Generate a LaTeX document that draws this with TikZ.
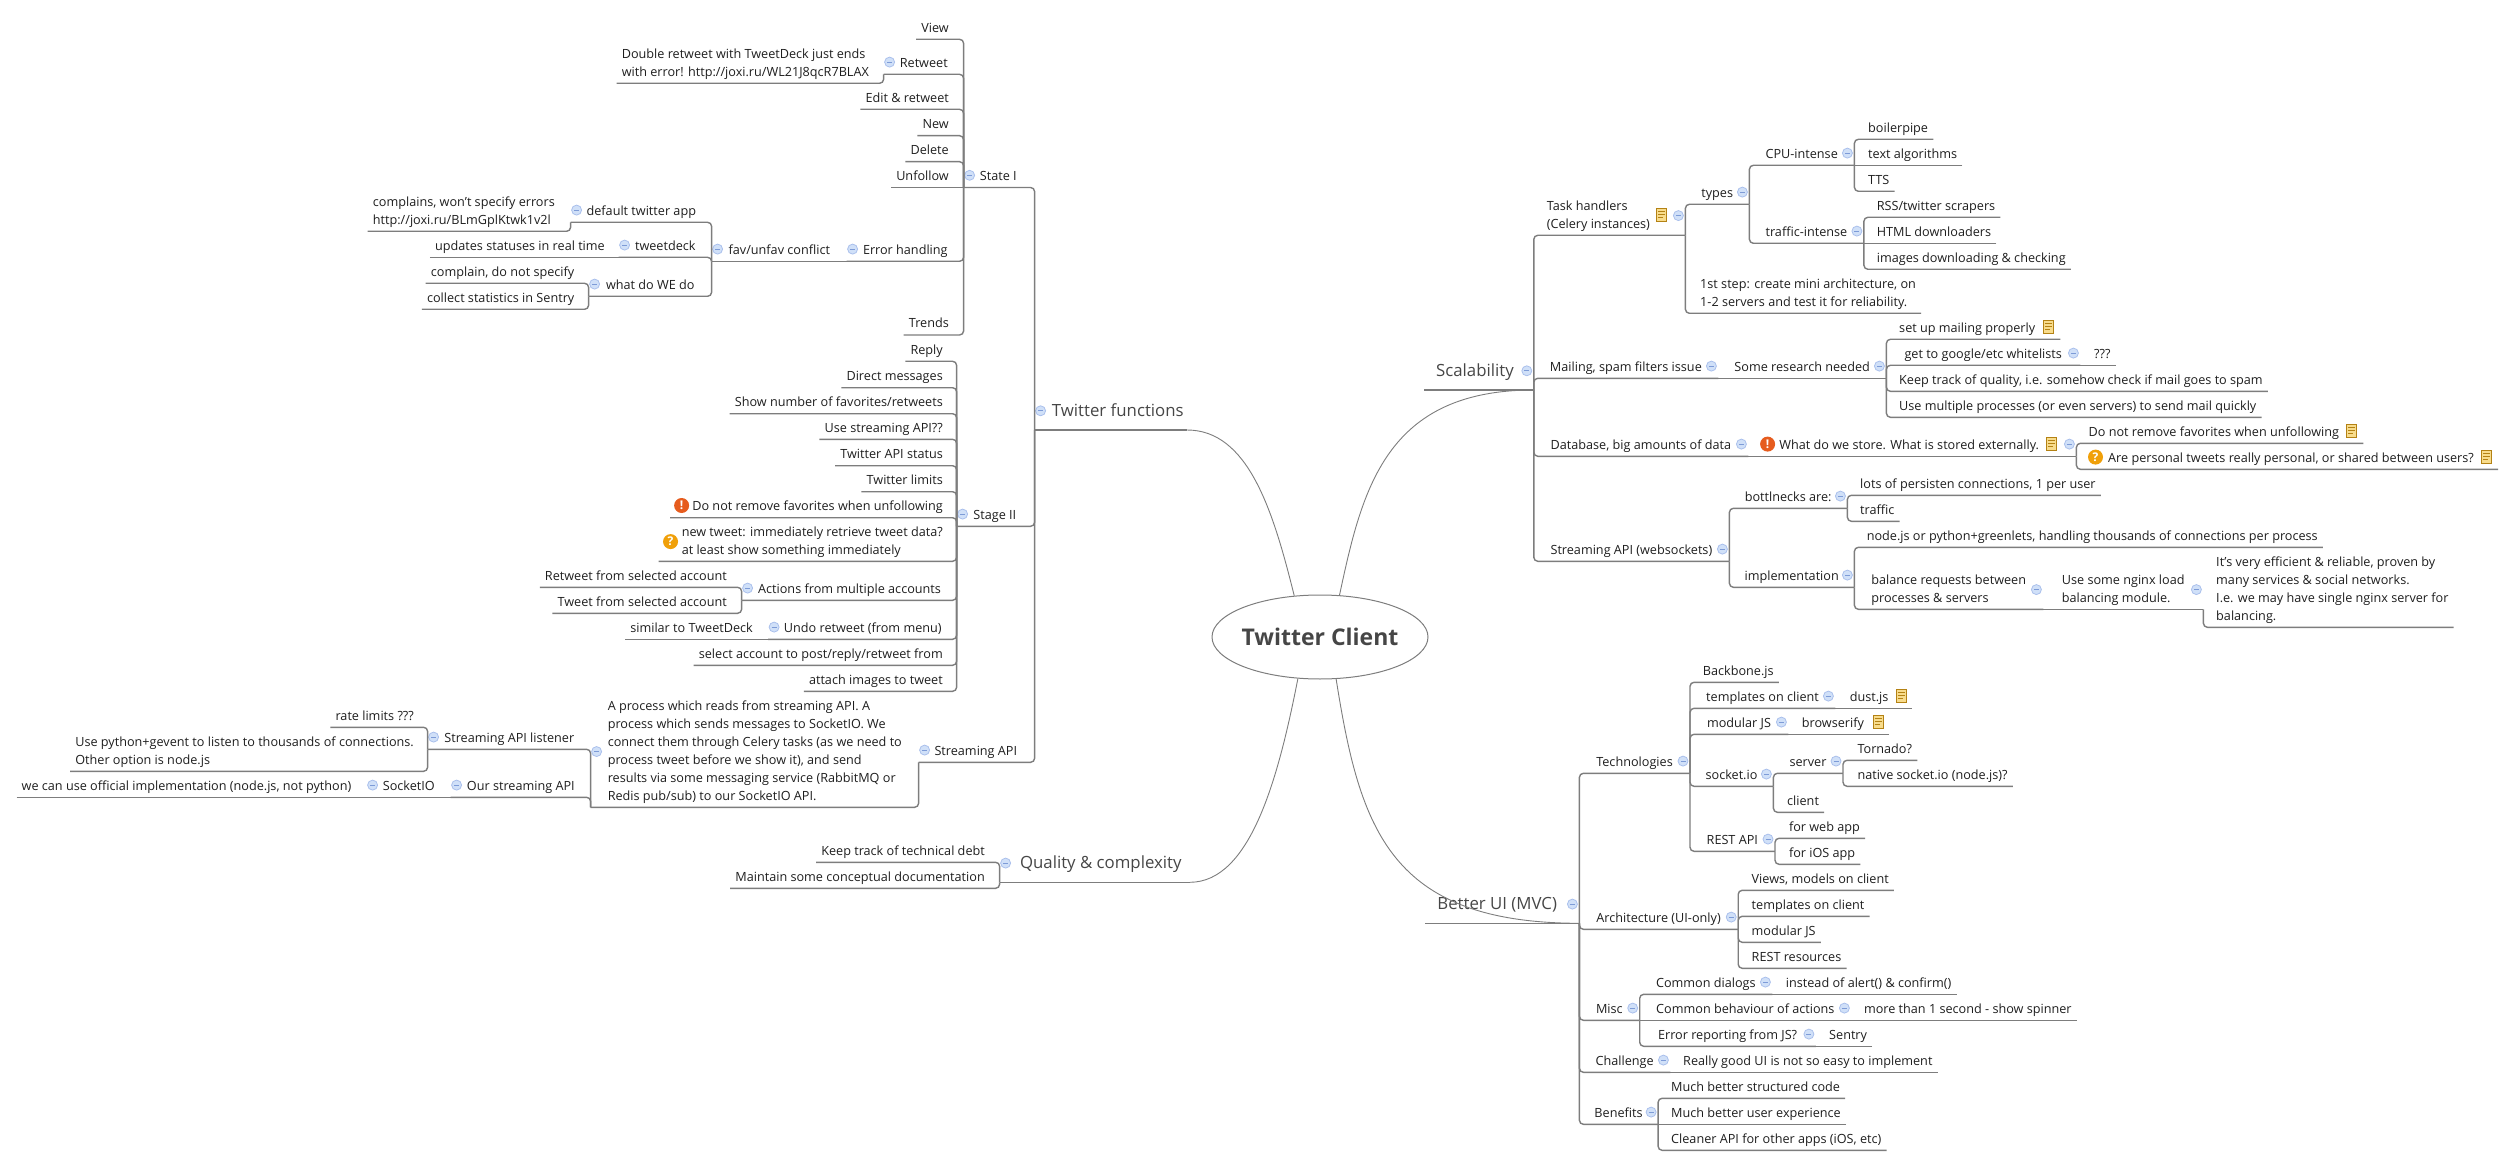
\documentclass[tikz,border=0pt]{standalone}
\usepackage{fontspec}
\setmainfont{Open Sans}
\usetikzlibrary{shapes.geometric}
\definecolor{linecol}{RGB}{125,125,125}
\definecolor{txtcol}{RGB}{30,30,30}
\definecolor{maincol}{RGB}{70,70,70}
\definecolor{foldfill}{RGB}{208,224,248}
\definecolor{foldedge}{RGB}{170,192,236}
\definecolor{foldline}{RGB}{125,155,215}
\definecolor{warncol}{RGB}{230,92,30}
\definecolor{askcol}{RGB}{240,160,10}
\definecolor{notefill}{RGB}{248,220,140}
\definecolor{noteline}{RGB}{180,130,20}
\tikzset{
  topic/.style={inner xsep=0pt,inner ysep=1.5pt,align=left,text=txtcol,font=\fontsize{12.65}{18}\selectfont,execute at begin node=\strut,execute at end node=\strut},
  lleaf/.style={topic,anchor=south east,inner xsep=5pt},
  rleaf/.style={topic,anchor=south west,inner xsep=5pt},
  lbranch/.style={topic,anchor=south east,minimum width=#1,append after command={node[foldmark] (\tikzlastnode-fold) at ([xshift=6pt,yshift=1.5pt]\tikzlastnode.west) {}}},
  rbranch/.style={topic,anchor=south west,minimum width=#1,append after command={node[foldmark] (\tikzlastnode-fold) at ([xshift=-7pt,yshift=1.5pt]\tikzlastnode.east) {}}},
  lmain/.style={topic,anchor=south east,minimum width=#1,inner ysep=6pt,text=maincol,font=\fontsize{16.8}{24}\selectfont,append after command={node[foldmark] (\tikzlastnode-fold) at ([xshift=6pt,yshift=1pt]\tikzlastnode.west) {}}},
  rmain/.style={topic,anchor=south west,minimum width=#1,inner ysep=6pt,text=maincol,font=\fontsize{16.8}{24}\selectfont,append after command={node[foldmark] (\tikzlastnode-fold) at ([xshift=-7pt,yshift=1pt]\tikzlastnode.east) {}}},
  foldmark/.style={circle,draw=foldedge,fill=foldfill,line width=0.8pt,inner sep=0pt,minimum size=10pt,path picture={\draw[foldline,line width=1pt] ([xshift=-2.5pt]path picture bounding box.center) -- ([xshift=2.5pt]path picture bounding box.center);}},
  warnmark/.style={circle,fill=warncol,text=white,inner sep=0pt,minimum size=15pt,font=\fontsize{12}{12}\selectfont\bfseries},
  askmark/.style={circle,fill=askcol,text=white,inner sep=0pt,minimum size=15pt,font=\fontsize{12}{12}\selectfont\bfseries},
  notemark/.style={rectangle,draw=noteline,fill=notefill,line width=1pt,inner sep=0pt,minimum width=10pt,minimum height=13pt,path picture={\draw[noteline,line width=0.8pt] ([shift={(1.5pt,-3pt)}]path picture bounding box.north west) -- ++(7,0) ++(-7,3) -- ++(7,0) ++(-7,3) -- ++(5,0);}},
  rootnode/.style={ellipse,draw=linecol,fill=white,line width=1pt,inner xsep=-2.2pt,inner ysep=0pt,minimum width=216pt,minimum height=84pt,text=maincol,font=\fontsize{23}{28}\selectfont\bfseries},
  link/.style={draw=linecol,line width=1.4pt,rounded corners=4pt},
  curve/.style={draw=linecol,line width=0.9pt}
}
\begin{document}
\begin{tikzpicture}[x=1pt,y=-1pt]
\useasboundingbox (0,0) rectangle (2512,1166);
\node[rootnode] (root) at (1320,637) {Twitter Client};

\node[lmain=152] (twitfn) at (1187,430) {\hspace*{14pt}Twitter functions};
\node[lmain=190] (quality) at (1190,882.3) {\hspace*{12pt}Quality \& complexity};
\node[rmain=109.4] (scal) at (1424,390) {Scalability\hspace*{8pt}};
\node[rmain=154] (betterui) at (1425,923.3) {Better UI (MVC)\hspace*{10pt}};

\node[lbranch=69] (statei) at (1033,187.5) {State I};
\node[lleaf] (view) at (954,39.3) {View};
\node[lbranch=80] (retweet) at (964,74.3) {Retweet};
\node[lleaf] (dblrt) at (874,83.3) {Double retweet with TweetDeck just ends\\with error! http://joxi.ru/WL21J8qcR7BLAX};
\node[lleaf] (editrt) at (954,109.3) {Edit \& retweet};
\node[lleaf] (newtop) at (954,135.7) {New};
\node[lleaf] (deltop) at (954,161.7) {Delete};
\node[lleaf] (unfollow) at (954,187.5) {Unfollow};
\node[lbranch=117] (errhand) at (964,261.3) {Error handling};
\node[lbranch=135] (favconf) at (847,261.3) {fav/unfav conflict};
\node[lbranch=141] (deftw) at (712,222.3) {default twitter app};
\node[lleaf] (complains) at (560,231.3) {complains, won't specify errors\\http://joxi.ru/BLmGplKtwk1v2l};
\node[lbranch=93] (tweetdeck) at (712,257.3) {tweetdeck};
\node[lleaf] (updates) at (610,257.3) {updates statuses in real time};
\node[lbranch=123] (whatwe) at (712,296.3) {what do WE do};
\node[lleaf] (complain) at (579.5,283.3) {complain, do not specify};
\node[lleaf] (collect) at (579.5,309.3) {collect statistics in Sentry};
\node[lleaf] (trends) at (954,335) {Trends};

\node[lbranch=76] (stageii) at (1033,526.3) {Stage II};
\node[lleaf] (reply) at (948,361.3) {Reply};
\node[lleaf] (direct) at (948,387.7) {Direct messages};
\node[lleaf] (shownum) at (948,413.7) {Show number of favorites/retweets};
\node[lleaf] (usestream) at (948,439.3) {Use streaming API??};
\node[lleaf] (apistatus) at (948,465.7) {Twitter API status};
\node[lleaf] (limits) at (948,491.7) {Twitter limits};
\node[lleaf] (keepfav) at (948,517.7) {\hspace*{17pt}Do not remove favorites when unfollowing};
\node[warnmark] (warnfav) at ([xshift=11.5pt,yshift=1.5pt]keepfav.west) {!};
\node[lleaf] (newtweet) at (948,561.3) {\hspace*{18pt}new tweet: immediately retrieve tweet data?\\\hspace*{18pt}at least show something immediately};
\node[askmark] (asktweet) at ([xshift=12pt,yshift=1.5pt]newtweet.west) {?};
\node[lbranch=215.5] (actions) at (957.5,600.3) {Actions from multiple accounts};
\node[lleaf] (rtselect) at (732,587.3) {Retweet from selected account};
\node[lleaf] (twselect) at (732,613.3) {Tweet from selected account};
\node[lbranch=189] (undort) at (957.5,639.3) {Undo retweet (from menu)};
\node[lleaf] (similar) at (758,639.3) {similar to TweetDeck};
\node[lleaf] (selacc) at (948,665.3) {select account to post/reply/retweet from};
\node[lleaf] (attach) at (948,691.3) {attach images to tweet};

\node[lbranch=114] (streamapi) at (1033,762.3) {Streaming API};
\node[lbranch=328] (aprocess) at (919,807.3) {A process which reads from streaming API. A\\process which sends messages to SocketIO. We\\connect them through Celery tasks (as we need to\\process tweet before we show it), and send\\results via some messaging service (RabbitMQ or\\Redis pub/sub) to our SocketIO API.};
\node[lbranch=163] (listener) at (591,749.3) {Streaming API listener};
\node[lleaf] (ratelim) at (419,727.3) {rate limits ???};
\node[lleaf] (usepy) at (419,771.3) {Use python+gevent to listen to thousands of connections.\\Other option is node.js};
\node[lbranch=140] (ourapi) at (591,797.3) {Our streaming API};
\node[lbranch=84] (socketio) at (451,797.3) {SocketIO};
\node[lleaf] (official) at (356.5,797.3) {we can use official implementation (node.js, not python)};

\node[lleaf] (techdebt) at (990,862.3) {Keep track of technical debt};
\node[lleaf] (concdoc) at (990,888.3) {Maintain some conceptual documentation};

\node[rbranch=151.6] (taskh) at (1533.4,235.3) {Task handlers\\(Celery instances)\hspace*{22pt}};
\node[notemark] (notetask) at ([xshift=-24pt,yshift=2.5pt]taskh.east) {};
\node[rbranch=64] (types) at (1685,204.3) {types};
\node[rbranch=105] (cpuint) at (1749,165.3) {CPU-intense};
\node[rleaf] (boiler) at (1863,139.3) {boilerpipe};
\node[rleaf] (textalg) at (1863,165.3) {text algorithms};
\node[rleaf] (tts) at (1863,191.3) {TTS};
\node[rbranch=114.5] (traffint) at (1749,243.3) {traffic-intense};
\node[rleaf] (scrapers) at (1871.6,217.3) {RSS/twitter scrapers};
\node[rleaf] (htmldl) at (1871.6,243.3) {HTML downloaders};
\node[rleaf] (imagesdl) at (1871.6,269.3) {images downloading \& checking};
\node[rleaf] (firststep) at (1695,313.3) {1st step: create mini architecture, on\\1-2 servers and test it for reliability.};

\node[rbranch=184.6] (mailing) at (1533.4,378.3) {Mailing, spam filters issue};
\node[rbranch=168] (research) at (1718,378.3) {Some research needed};
\node[rleaf] (setmail) at (1894,339.3) {set up mailing properly\hspace*{20pt}};
\node[notemark] (notemail) at ([xshift=-12pt,yshift=1.5pt]setmail.east) {};
\node[rbranch=194] (whitel) at (1886,365.3) {get to google/etc whitelists};
\node[rleaf] (qqq) at (2089,365.3) {???};
\node[rleaf] (keepq) at (1894,391.3) {Keep track of quality, i.e. somehow check if mail goes to spam};
\node[rleaf] (multproc) at (1894,417.3) {Use multiple processes (or even servers) to send mail quickly};

\node[rbranch=214.6] (dbase) at (1533.4,456.3) {Database, big amounts of data};
\node[rbranch=328] (store) at (1748,456.3) {What do we store. What is stored externally.\hspace*{6pt}};
\node[warnmark] (warnstore) at ([xshift=19.6pt,yshift=1.5pt]store.west) {!};
\node[notemark] (notestore) at ([xshift=-25pt,yshift=1.5pt]store.east) {};
\node[rleaf] (dbfav) at (2083.4,443.3) {Do not remove favorites when unfollowing\hspace*{19pt}};
\node[notemark] (notedbfav) at ([xshift=-11.5pt,yshift=1.5pt]dbfav.east) {};
\node[rleaf] (personal) at (2083,469.3) {\hspace*{20pt}Are personal tweets really personal, or shared between users?\hspace*{19pt}};
\node[askmark] (askpers) at ([xshift=12.5pt,yshift=1.5pt]personal.west) {?};
\node[notemark] (notepers) at ([xshift=-11.5pt,yshift=1.5pt]personal.east) {};

\node[rbranch=195.6] (wsapi) at (1533.4,561.3) {Streaming API (websockets)};
\node[rbranch=118] (bottle) at (1729,508.3) {bottlnecks are:};
\node[rleaf] (persist) at (1855,495.3) {lots of persisten connections, 1 per user};
\node[rleaf] (traffic) at (1855,521.3) {traffic};
\node[rbranch=125] (impl) at (1729,587.3) {implementation};
\node[rleaf] (greenl) at (1861.6,547.3) {node.js or python+greenlets, handling thousands of connections per process};
\node[rbranch=189] (balance) at (1854,609.3) {balance requests between\\processes \& servers};
\node[rbranch=160] (nginx) at (2043,609.3) {Use some nginx load\\balancing module.};
\node[rleaf] (efficient) at (2211,627.3) {It's very efficient \& reliable, proven by\\many services \& social networks.\\I.e. we may have single nginx server for\\balancing.};

\node[rbranch=110.6] (techs) at (1579,773.3) {Technologies};
\node[rleaf] (backbone) at (1697.7,682.3) {Backbone.js};
\node[rbranch=145.4] (tplclient) at (1689.6,708.3) {templates on client};
\node[rleaf] (dustjs) at (1844.6,708.3) {dust.js\hspace*{18pt}};
\node[notemark] (notedust) at ([xshift=-10.5pt,yshift=1.5pt]dustjs.east) {};
\node[rbranch=98.4] (modjs) at (1689.6,734.3) {modular JS};
\node[rleaf] (browserify) at (1796.7,734.3) {browserify\hspace*{20pt}};
\node[notemark] (notebrow) at ([xshift=-11pt,yshift=1.5pt]browserify.east) {};
\node[rbranch=83.4] (sockio) at (1689.6,786.3) {socket.io};
\node[rbranch=69.6] (server) at (1773,773.3) {server};
\node[rleaf] (tornado) at (1852.3,760.3) {Tornado?};
\node[rleaf] (nativesock) at (1852.3,786.3) {native socket.io (node.js)?};
\node[rleaf] (client) at (1782,812.3) {client};
\node[rbranch=85] (restapi) at (1689.6,851.3) {REST API};
\node[rleaf] (webapp) at (1783.8,838.3) {for web app};
\node[rleaf] (iosapp) at (1783.8,864.3) {for iOS app};

\node[rbranch=158.8] (archi) at (1579,929.3) {Architecture (UI-only)};
\node[rleaf] (views) at (1746.5,890.3) {Views, models on client};
\node[rleaf] (tplarch) at (1746.5,916.3) {templates on client};
\node[rleaf] (modarch) at (1746.5,942.3) {modular JS};
\node[rleaf] (restres) at (1746.5,968.3) {REST resources};

\node[rbranch=60.3] (misc) at (1579,1020.3) {Misc};
\node[rbranch=132.7] (dialogs) at (1639.3,994.3) {Common dialogs};
\node[rleaf] (insalert) at (1780.7,994.3) {instead of alert() \& confirm()};
\node[rbranch=211.7] (behav) at (1639.3,1020.3) {Common behaviour of actions};
\node[rleaf] (spinner) at (1858.8,1020.3) {more than 1 second - show spinner};
\node[rbranch=176.2] (errjs) at (1639.3,1046.3) {Error reporting from JS?};
\node[rleaf] (sentry) at (1824,1046.3) {Sentry};

\node[rbranch=91] (challenge) at (1579,1072.3) {Challenge};
\node[rleaf] (goodui) at (1678,1072.3) {Really good UI is not so easy to implement};

\node[rbranch=78.7] (benefits) at (1579,1124.3) {Benefits};
\node[rleaf] (structc) at (1666,1098.3) {Much better structured code};
\node[rleaf] (userexp) at (1666,1124.3) {Much better user experience};
\node[rleaf] (cleaner) at (1666,1150.3) {Cleaner API for other apps (iOS, etc)};

\draw[link] (twitfn.south west) -- (twitfn.south east);
\draw[link] (quality.south west) -- (quality.south east);
\draw[link] (scal.south west) -- (scal.south east);
\draw[link] (betterui.south west) -- (betterui.south east);
\draw[curve] (twitfn.south east) .. controls (1248,430) and (1273,510) .. (root.122);
\draw[curve] (quality.south east) .. controls (1250,882) and (1278,780) .. (root.242);
\draw[curve] (scal.south east) .. controls (1385,390) and (1362,490) .. (root.65);
\draw[curve] (betterui.south east) .. controls (1390,923) and (1360,830) .. (root.291);

\draw[link] (statei.south west) -| (twitfn.south west);
\draw[link] (stageii.south west) -| (twitfn.south west);
\draw[link] (streamapi.south west) -| (twitfn.south west);
\draw[link] (view.south west) -| (statei.south west);
\draw[link] (retweet.south west) -| (statei.south west);
\draw[link] (dblrt.south west) -| (retweet.south west);
\draw[link] (editrt.south west) -| (statei.south west);
\draw[link] (newtop.south west) -| (statei.south west);
\draw[link] (deltop.south west) -| (statei.south west);
\draw[link] (unfollow.south west) -- (statei.south west);
\draw[link] (errhand.south west) -| (statei.south west);
\draw[link] (favconf.south west) -- (errhand.south west);
\draw[link] (deftw.south west) -| (favconf.south west);
\draw[link] (complains.south west) -| (deftw.south west);
\draw[link] (tweetdeck.south west) -| (favconf.south west);
\draw[link] (updates.south west) -- (tweetdeck.south west);
\draw[link] (whatwe.south west) -| (favconf.south west);
\draw[link] (complain.south west) -| (whatwe.south west);
\draw[link] (collect.south west) -| (whatwe.south west);
\draw[link] (trends.south west) -| (statei.south west);
\draw[link] (reply.south west) -| (stageii.south west);
\draw[link] (direct.south west) -| (stageii.south west);
\draw[link] (shownum.south west) -| (stageii.south west);
\draw[link] (usestream.south west) -| (stageii.south west);
\draw[link] (apistatus.south west) -| (stageii.south west);
\draw[link] (limits.south west) -| (stageii.south west);
\draw[link] (keepfav.south west) -| (stageii.south west);
\draw[link] (newtweet.south west) -| (stageii.south west);
\draw[link] (actions.south west) -| (stageii.south west);
\draw[link] (rtselect.south west) -| (actions.south west);
\draw[link] (twselect.south west) -| (actions.south west);
\draw[link] (undort.south west) -| (stageii.south west);
\draw[link] (similar.south west) -- (undort.south west);
\draw[link] (selacc.south west) -| (stageii.south west);
\draw[link] (attach.south west) -| (stageii.south west);
\draw[link] (aprocess.south west) -| (streamapi.south west);
\draw[link] (listener.south west) -| (aprocess.south west);
\draw[link] (ratelim.south west) -| (listener.south west);
\draw[link] (usepy.south west) -| (listener.south west);
\draw[link] (ourapi.south west) -| (aprocess.south west);
\draw[link] (socketio.south west) -- (ourapi.south west);
\draw[link] (official.south west) -- (socketio.south west);
\draw[link] (techdebt.south west) -| (quality.south west);
\draw[link] (concdoc.south west) -| (quality.south west);

\draw[link] (taskh.south east) -| (scal.south east);
\draw[link] (types.south east) -| (taskh.south east);
\draw[link] (cpuint.south east) -| (types.south east);
\draw[link] (boiler.south east) -| (cpuint.south east);
\draw[link] (textalg.south east) -- (cpuint.south east);
\draw[link] (tts.south east) -| (cpuint.south east);
\draw[link] (traffint.south east) -| (types.south east);
\draw[link] (scrapers.south east) -| (traffint.south east);
\draw[link] (htmldl.south east) -- (traffint.south east);
\draw[link] (imagesdl.south east) -| (traffint.south east);
\draw[link] (firststep.south east) -| (taskh.south east);
\draw[link] (mailing.south east) -| (scal.south east);
\draw[link] (research.south east) -- (mailing.south east);
\draw[link] (setmail.south east) -| (research.south east);
\draw[link] (whitel.south east) -| (research.south east);
\draw[link] (qqq.south east) -- (whitel.south east);
\draw[link] (keepq.south east) -| (research.south east);
\draw[link] (multproc.south east) -| (research.south east);
\draw[link] (dbase.south east) -| (scal.south east);
\draw[link] (store.south east) -- (dbase.south east);
\draw[link] (dbfav.south east) -| (store.south east);
\draw[link] (personal.south east) -| (store.south east);
\draw[link] (wsapi.south east) -| (scal.south east);
\draw[link] (bottle.south east) -| (wsapi.south east);
\draw[link] (persist.south east) -| (bottle.south east);
\draw[link] (traffic.south east) -| (bottle.south east);
\draw[link] (impl.south east) -| (wsapi.south east);
\draw[link] (greenl.south east) -| (impl.south east);
\draw[link] (balance.south east) -| (impl.south east);
\draw[link] (nginx.south east) -- (balance.south east);
\draw[link] (efficient.south east) -| (nginx.south east);

\draw[link] (techs.south east) -| (betterui.south east);
\draw[link] (backbone.south east) -| (techs.south east);
\draw[link] (tplclient.south east) -| (techs.south east);
\draw[link] (dustjs.south east) -- (tplclient.south east);
\draw[link] (modjs.south east) -| (techs.south east);
\draw[link] (browserify.south east) -- (modjs.south east);
\draw[link] (sockio.south east) -| (techs.south east);
\draw[link] (server.south east) -| (sockio.south east);
\draw[link] (tornado.south east) -| (server.south east);
\draw[link] (nativesock.south east) -| (server.south east);
\draw[link] (client.south east) -| (sockio.south east);
\draw[link] (restapi.south east) -| (techs.south east);
\draw[link] (webapp.south east) -| (restapi.south east);
\draw[link] (iosapp.south east) -| (restapi.south east);
\draw[link] (archi.south east) -| (betterui.south east);
\draw[link] (views.south east) -| (archi.south east);
\draw[link] (tplarch.south east) -| (archi.south east);
\draw[link] (modarch.south east) -| (archi.south east);
\draw[link] (restres.south east) -| (archi.south east);
\draw[link] (misc.south east) -| (betterui.south east);
\draw[link] (dialogs.south east) -| (misc.south east);
\draw[link] (insalert.south east) -- (dialogs.south east);
\draw[link] (behav.south east) -- (misc.south east);
\draw[link] (spinner.south east) -- (behav.south east);
\draw[link] (errjs.south east) -| (misc.south east);
\draw[link] (sentry.south east) -- (errjs.south east);
\draw[link] (challenge.south east) -| (betterui.south east);
\draw[link] (goodui.south east) -- (challenge.south east);
\draw[link] (benefits.south east) -| (betterui.south east);
\draw[link] (structc.south east) -| (benefits.south east);
\draw[link] (userexp.south east) -- (benefits.south east);
\draw[link] (cleaner.south east) -| (benefits.south east);
\end{tikzpicture}
\end{document}
